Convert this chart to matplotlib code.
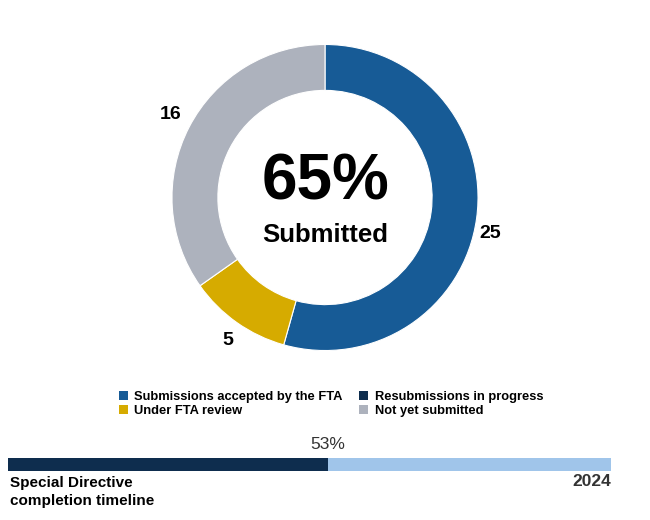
import matplotlib.pyplot as plt
import numpy as np
from matplotlib.patches import Patch

plt.rcParams['font.family'] = ['Liberation Sans', 'DejaVu Sans']

# Donut data
categories = ['Submissions accepted by the FTA', 'Resubmissions in progress',
              'Under FTA review', 'Not yet submitted']
counts = [25, 0, 5, 16]
colors = ['#175b96', '#0e2d4e', '#d6ab00', '#adb2bd']

# Timeline data
timeline_done = 53
timeline_year = '2024'

fig = plt.figure(figsize=(6.5, 5.2), dpi=100)

# Donut
ax = fig.add_axes([(325 - 200) / 650, (322.5 - 200) / 520, 400 / 650, 400 / 520])
vals = [v for v in counts if v > 0]
cols = [c for v, c in zip(counts, colors) if v > 0]
wedges, _ = ax.pie(vals, colors=cols, startangle=90, counterclock=False,
                   radius=1.0, wedgeprops=dict(width=0.30, edgecolor='white', linewidth=0.8))
ax.set_xlim(-1.307, 1.307)
ax.set_ylim(-1.307, 1.307)
ax.set_aspect('equal')
ax.axis('off')

# value labels outside the ring (small nudges in points to sit like the original)
nudges = [(-3, -9), (1, -2.5), (-1.5, 3)]
total = sum(vals)
start = 90
for v, w, nd in zip(vals, wedges, nudges):
    mid = np.deg2rad(start - 360 * v / total / 2)
    start -= 360 * v / total
    ax.annotate(str(v), (1.12 * np.cos(mid), 1.12 * np.sin(mid)), xytext=nd,
                textcoords='offset points', ha='center', va='center',
                fontsize=14, fontweight='bold', color='black')

pct = round(100 * (sum(counts) - counts[3]) / sum(counts))
ax.text(0, 0.10, f'{pct}%', ha='center', va='center', fontsize=46, fontweight='bold')
ax.text(0, -0.245, 'Submitted', ha='center', va='center', fontsize=18.5, fontweight='bold')

# Legend
order = [0, 2, 1, 3]
handles = [Patch(facecolor=colors[i], edgecolor='none', label=categories[i]) for i in order]
fig.legend(handles=handles, loc='center', bbox_to_anchor=(331 / 650, 1 - 404 / 520),
           ncol=2, frameon=False, prop=dict(weight='bold', size=9.3),
           handlelength=0.7, handleheight=0.7, handletextpad=0.5,
           columnspacing=1.3, labelspacing=0.2, borderpad=0)

# Timeline bar
bx = fig.add_axes([8 / 650, 1 - 471 / 520, 603 / 650, 13 / 520])
bx.barh([0], [100], color='#a0c5ea', height=1)
bx.barh([0], [timeline_done], color='#0e2d4e', height=1)
bx.set_xlim(0, 100)
bx.set_ylim(-0.5, 0.5)
bx.axis('off')
bx.text(timeline_done, 0.95, f'{timeline_done}%', ha='center', va='bottom',
        fontsize=12.5, color='#333333')
fig.text(611 / 650, 1 - 482 / 520, timeline_year, ha='right', va='center',
         fontsize=12.5, fontweight='bold', color='#333333')
fig.text(10 / 650, 1 - 476 / 520, 'Special Directive\ncompletion timeline', ha='left',
         va='top', fontsize=11, fontweight='bold', color='black', linespacing=1.35)

fig.savefig('out.png', dpi=100)
